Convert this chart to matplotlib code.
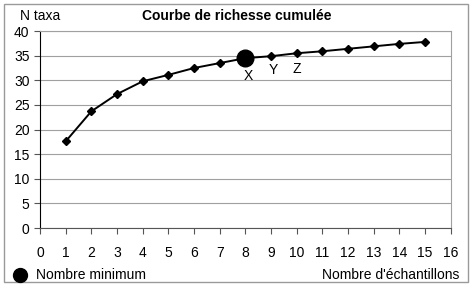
import matplotlib.pyplot as plt
import numpy as np
from matplotlib.patches import Rectangle
from matplotlib.lines import Line2D

plt.rcParams['font.family'] = ['Liberation Sans', 'DejaVu Sans']

echantillons = [1, 2, 3, 4, 5, 6, 7, 8, 9, 10, 11, 12, 13, 14, 15]
n_taxa = [17.6, 23.7, 27.2, 29.8, 31.1, 32.5, 33.5, 34.5, 34.9, 35.5, 35.9, 36.4, 36.9, 37.4, 37.8]

minimum_x = 8
minimum_y = 34.5

etiquettes = ["X", "Y", "Z"]
etiquettes_x = [8.1, 9.1, 10.0]
etiquettes_y = [30.8, 32.0, 32.3]

fig = plt.figure(figsize=(4.74, 2.96), dpi=100)
fig.patches.append(Rectangle((0.009, 0.047), 0.978, 0.94, transform=fig.transFigure,
                             fill=False, edgecolor="#9a9a9a", linewidth=1))

ax = fig.add_axes([0.0844, 0.2297, 0.8666, 0.6653])
ax.plot(echantillons, n_taxa, color="black", linewidth=1.4, marker="D", markersize=4.5)
ax.plot([minimum_x], [minimum_y], "o", color="black", markersize=12)
for t, x, y in zip(etiquettes, etiquettes_x, etiquettes_y):
    ax.text(x, y, t, ha="center", va="center", fontsize=10)

ax.set_xlim(0, 16)
ax.set_ylim(0, 40)
ax.set_xticks(np.arange(0, 17, 1))
ax.set_yticks(np.arange(0, 41, 5))
ax.tick_params(labelsize=10, length=4, width=0.8, color="#555555", direction="out")
ax.tick_params(axis="x", pad=9)
ax.grid(axis="y", color="#a0a0a0", linewidth=0.8)
ax.set_axisbelow(True)
ax.spines["left"].set_color("black")
ax.spines["bottom"].set_color("#555555")
ax.spines["top"].set_color("#a0a0a0")
ax.spines["right"].set_color("#a0a0a0")

fig.text(0.5, 0.945, "Courbe de richesse cumulée", ha="center", va="center",
         fontsize=10, fontweight="bold")
fig.text(0.042, 0.945, "N taxa", ha="left", va="center", fontsize=10)
fig.lines.append(Line2D([0.042], [0.07], marker="o", color="black", markersize=10,
                        transform=fig.transFigure))
fig.text(0.075, 0.07, "Nombre minimum", ha="left", va="center", fontsize=10)
fig.text(0.97, 0.07, "Nombre d'échantillons", ha="right", va="center", fontsize=10)

fig.savefig("out.png", dpi=100)
